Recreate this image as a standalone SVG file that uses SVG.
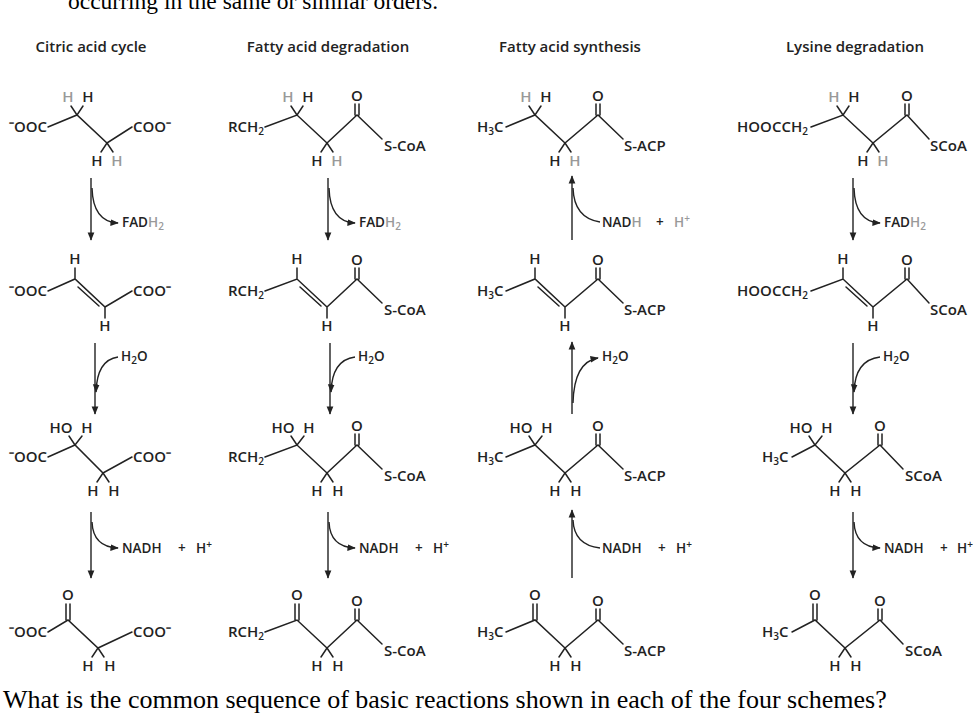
<svg xmlns="http://www.w3.org/2000/svg" width="976" height="723" viewBox="0 0 976 723">
<style>
.b{stroke:#222;stroke-width:1.5;fill:none;stroke-linecap:round}
.a{stroke:#222;stroke-width:1.4;fill:none}
text{font-family:"Open Sans","Liberation Sans",sans-serif;font-size:15px;font-weight:600;fill:#222}
.m{text-anchor:middle}
.e{text-anchor:end}
.g{fill:#999}
.l{font-size:13.5px}
.h{font-size:15px}
.s{font-size:10px}
.q{font-family:"Liberation Serif","Times New Roman",serif;font-weight:400;fill:#000}
.q1{font-size:23.5px}
.q2{font-size:26px}
</style>
<defs>
<marker id="ah" viewBox="0 0 10 10" refX="9" refY="5" markerWidth="6" markerHeight="6" orient="auto"><path d="M0,1 L10,5 L0,9 z" fill="#222"/></marker>
</defs>
<rect width="976" height="723" fill="#fff"/>
<text class="q q1" x="68" y="9">occurring in the same or similar orders.</text>
<text class="q q2" x="3" y="708">What is the common sequence of basic reactions shown in each of the four schemes?</text>
<g id="headers">
<text class="h m" x="91" y="52">Citric acid cycle</text>
<text class="h m" x="328" y="52">Fatty acid degradation</text>
<text class="h m" x="570" y="52">Fatty acid synthesis</text>
<text class="h m" x="855" y="52">Lysine degradation</text>
</g>

<g id="succinate">
<path class="b" d="M48,127 L77,115 L107,143 L132,127 M77,115 L71,106 M77,115 L83,106 M107,143 L101,152 M107,143 L113,152"/>
<text class="e" x="47" y="132">⁻OOC</text><text x="133" y="132">COO⁻</text>
<text class="m g" x="68" y="102">H</text><text class="m" x="88" y="102">H</text>
<text class="m" x="97" y="166">H</text><text class="m g" x="117" y="166">H</text>
</g>
<g id="fumarate">
<path class="b" d="M48,291 L75,279 L105,307 L132,291 M78,287 L99,306 M75,279 L75,268 M105,307 L105,318"/>
<text class="e" x="47" y="296">⁻OOC</text><text x="133" y="296">COO⁻</text>
<text class="m" x="75" y="264">H</text><text class="m" x="105" y="331">H</text>
</g>
<g id="malate">
<path class="b" d="M48,457 L75,445 L103,473 L132,457 M75,445 L69,436 M75,445 L82,436 M103,473 L97,482 M103,473 L109,482"/>
<text class="e" x="47" y="462">⁻OOC</text><text x="133" y="462">COO⁻</text>
<text class="m" x="61" y="433">HO</text><text class="m" x="87" y="433">H</text>
<text class="m" x="93" y="496">H</text><text class="m" x="114" y="496">H</text>
</g>
<g id="oxaloacetate">
<path class="b" d="M48,632 L68,620 L98,648 L132,632 M66,620 L66,604 M70,620 L70,604 M98,648 L92,657 M98,648 L104,657"/>
<text class="e" x="47" y="637">⁻OOC</text><text x="133" y="637">COO⁻</text>
<text class="m" x="68" y="600">O</text>
<text class="m" x="88" y="671">H</text><text class="m" x="110" y="671">H</text>
</g>

<g id="acylcoa">
<path class="b" d="M265,127 L297,115 L327,143 L357,115 L382,139 M355,115 L355,104 M359,115 L359,104 M297,115 L291,106 M297,115 L303,106 M327,143 L321,152 M327,143 L333,152"/>
<text x="228" y="132">RCH<tspan class="s" dy="3">2</tspan></text><text x="384" y="151">S-CoA</text>
<text class="m" x="357" y="101">O</text>
<text class="m g" x="288" y="102">H</text><text class="m" x="308" y="102">H</text>
<text class="m" x="317" y="166">H</text><text class="m g" x="337" y="166">H</text>
</g>
<g id="enoylcoa">
<path class="b" d="M265,291 L297,279 L327,307 L357,279 L382,303 M300,287 L321,306 M355,279 L355,268 M359,279 L359,268 M297,279 L297,268 M327,307 L327,318"/>
<text x="228" y="296">RCH<tspan class="s" dy="3">2</tspan></text><text x="384" y="315">S-CoA</text>
<text class="m" x="357" y="265">O</text>
<text class="m" x="297" y="264">H</text><text class="m" x="327" y="331">H</text>
</g>
<g id="hydroxyacylcoa">
<path class="b" d="M265,457 L297,445 L327,473 L357,445 L382,469 M355,445 L355,434 M359,445 L359,434 M297,445 L291,436 M297,445 L304,436 M327,473 L321,482 M327,473 L333,482"/>
<text x="228" y="462">RCH<tspan class="s" dy="3">2</tspan></text><text x="384" y="481">S-CoA</text>
<text class="m" x="357" y="431">O</text>
<text class="m" x="283" y="433">HO</text><text class="m" x="309" y="433">H</text>
<text class="m" x="317" y="496">H</text><text class="m" x="338" y="496">H</text>
</g>
<g id="ketoacylcoa">
<path class="b" d="M265,632 L297,620 L327,648 L357,620 L382,644 M295,620 L295,604 M299,620 L299,604 M355,620 L355,609 M359,620 L359,609 M327,648 L321,657 M327,648 L333,657"/>
<text x="228" y="637">RCH<tspan class="s" dy="3">2</tspan></text><text x="384" y="656">S-CoA</text>
<text class="m" x="297" y="600">O</text><text class="m" x="357" y="606">O</text>
<text class="m" x="317" y="671">H</text><text class="m" x="338" y="671">H</text>
</g>

<g id="butyrylacp">
<path class="b" d="M506,127 L535,115 L565,143 L598,115 L623,139 M596,115 L596,104 M600,115 L600,104 M535,115 L529,106 M535,115 L541,106 M565,143 L559,152 M565,143 L571,152"/>
<text x="477" y="132">H<tspan class="s" dy="3">3</tspan><tspan dy="-3">C</tspan></text><text x="624" y="151">S-ACP</text>
<text class="m" x="598" y="101">O</text>
<text class="m g" x="526" y="102">H</text><text class="m" x="546" y="102">H</text>
<text class="m" x="555" y="166">H</text><text class="m g" x="575" y="166">H</text>
</g>
<g id="crotonylacp">
<path class="b" d="M506,291 L535,279 L565,307 L598,279 L623,303 M538,287 L559,306 M596,279 L596,268 M600,279 L600,268 M535,279 L535,268 M565,307 L565,318"/>
<text x="477" y="296">H<tspan class="s" dy="3">3</tspan><tspan dy="-3">C</tspan></text><text x="624" y="315">S-ACP</text>
<text class="m" x="598" y="265">O</text>
<text class="m" x="535" y="264">H</text><text class="m" x="565" y="331">H</text>
</g>
<g id="hydroxybutyrylacp">
<path class="b" d="M506,457 L535,445 L565,473 L598,445 L623,469 M596,445 L596,434 M600,445 L600,434 M535,445 L529,436 M535,445 L542,436 M565,473 L559,482 M565,473 L571,482"/>
<text x="477" y="462">H<tspan class="s" dy="3">3</tspan><tspan dy="-3">C</tspan></text><text x="624" y="481">S-ACP</text>
<text class="m" x="598" y="431">O</text>
<text class="m" x="521" y="433">HO</text><text class="m" x="547" y="433">H</text>
<text class="m" x="555" y="496">H</text><text class="m" x="576" y="496">H</text>
</g>
<g id="acetoacetylacp">
<path class="b" d="M506,632 L535,620 L565,648 L598,620 L623,644 M533,620 L533,604 M537,620 L537,604 M596,620 L596,609 M600,620 L600,609 M565,648 L559,657 M565,648 L571,657"/>
<text x="477" y="637">H<tspan class="s" dy="3">3</tspan><tspan dy="-3">C</tspan></text><text x="624" y="656">S-ACP</text>
<text class="m" x="535" y="600">O</text><text class="m" x="598" y="606">O</text>
<text class="m" x="555" y="671">H</text><text class="m" x="576" y="671">H</text>
</g>

<g id="glutarylcoa">
<path class="b" d="M811,127 L843,115 L873,143 L907,115 L929,139 M905,115 L905,104 M909,115 L909,104 M843,115 L837,106 M843,115 L849,106 M873,143 L867,152 M873,143 L879,152"/>
<text x="737" y="132">HOOCCH<tspan class="s" dy="3">2</tspan></text><text x="930" y="151">SCoA</text>
<text class="m" x="907" y="101">O</text>
<text class="m g" x="834" y="102">H</text><text class="m" x="854" y="102">H</text>
<text class="m" x="863" y="166">H</text><text class="m g" x="883" y="166">H</text>
</g>
<g id="glutaconylcoa">
<path class="b" d="M811,291 L843,279 L873,307 L907,279 L929,303 M846,287 L867,306 M905,279 L905,268 M909,279 L909,268 M843,279 L843,268 M873,307 L873,318"/>
<text x="737" y="296">HOOCCH<tspan class="s" dy="3">2</tspan></text><text x="930" y="315">SCoA</text>
<text class="m" x="907" y="265">O</text>
<text class="m" x="843" y="264">H</text><text class="m" x="873" y="331">H</text>
</g>
<g id="hydroxybutyrylcoa">
<path class="b" d="M792,457 L815,445 L845,473 L880,445 L903,469 M878,445 L878,434 M882,445 L882,434 M815,445 L809,436 M815,445 L822,436 M845,473 L839,482 M845,473 L851,482"/>
<text x="762" y="462">H<tspan class="s" dy="3">3</tspan><tspan dy="-3">C</tspan></text><text x="905" y="481">SCoA</text>
<text class="m" x="880" y="431">O</text>
<text class="m" x="801" y="433">HO</text><text class="m" x="827" y="433">H</text>
<text class="m" x="835" y="496">H</text><text class="m" x="856" y="496">H</text>
</g>
<g id="acetoacetylcoa">
<path class="b" d="M792,632 L815,620 L845,648 L880,620 L903,644 M813,620 L813,604 M817,620 L817,604 M878,620 L878,609 M882,620 L882,609 M845,648 L839,657 M845,648 L851,657"/>
<text x="762" y="637">H<tspan class="s" dy="3">3</tspan><tspan dy="-3">C</tspan></text><text x="905" y="656">SCoA</text>
<text class="m" x="815" y="600">O</text><text class="m" x="880" y="606">O</text>
<text class="m" x="835" y="671">H</text><text class="m" x="856" y="671">H</text>
</g>

<g id="connectors">
<path class="a" marker-end="url(#ah)" d="M91,178 L91,240"/>
<path class="a" marker-end="url(#ah)" d="M92,188 Q93,222 118,223"/>
<path class="a" marker-end="url(#ah)" d="M95,343 L95,414"/>
<path class="a" marker-end="url(#ah)" d="M118,357 Q97,360 96,392"/>
<path class="a" marker-end="url(#ah)" d="M91,512 L91,578"/>
<path class="a" marker-end="url(#ah)" d="M92,522 Q93,547 118,548"/>
<path class="a" marker-end="url(#ah)" d="M328,178 L328,240"/>
<path class="a" marker-end="url(#ah)" d="M329,188 Q330,222 355,223"/>
<path class="a" marker-end="url(#ah)" d="M330,343 L330,414"/>
<path class="a" marker-end="url(#ah)" d="M355,357 Q332,360 331,392"/>
<path class="a" marker-end="url(#ah)" d="M328,512 L328,578"/>
<path class="a" marker-end="url(#ah)" d="M329,522 Q330,547 355,548"/>
<path class="a" marker-end="url(#ah)" d="M572,240 L572,176"/>
<path class="a" d="M600,222 Q574,218 573,188"/>
<path class="a" marker-end="url(#ah)" d="M572,414 L572,342"/>
<path class="a" marker-end="url(#ah)" d="M573,403 Q574,362 598,358"/>
<path class="a" marker-end="url(#ah)" d="M572,578 L572,510"/>
<path class="a" d="M600,548 Q574,545 573,520"/>
<path class="a" marker-end="url(#ah)" d="M853,178 L853,240"/>
<path class="a" marker-end="url(#ah)" d="M854,188 Q855,222 880,223"/>
<path class="a" marker-end="url(#ah)" d="M853,343 L853,414"/>
<path class="a" marker-end="url(#ah)" d="M880,357 Q855,360 854,392"/>
<path class="a" marker-end="url(#ah)" d="M853,512 L853,578"/>
<path class="a" marker-end="url(#ah)" d="M854,522 Q855,547 880,548"/>
</g>
<g id="labels">
<text class="l" x="122" y="227">FAD<tspan class="g">H</tspan><tspan class="g s" dy="3">2</tspan></text>
<text class="l" x="121" y="361">H<tspan class="s" dy="3">2</tspan><tspan dy="-3">O</tspan></text>
<text class="l" x="122" y="553">NADH<tspan x="178">+</tspan><tspan x="196">H</tspan><tspan class="s" dy="-5">+</tspan></text>
<text class="l" x="359" y="227">FAD<tspan class="g">H</tspan><tspan class="g s" dy="3">2</tspan></text>
<text class="l" x="358" y="361">H<tspan class="s" dy="3">2</tspan><tspan dy="-3">O</tspan></text>
<text class="l" x="359" y="553">NADH<tspan x="415">+</tspan><tspan x="433">H</tspan><tspan class="s" dy="-5">+</tspan></text>
<text class="l" x="602" y="227">NAD<tspan class="g">H</tspan><tspan x="656">+</tspan><tspan class="g" x="674">H</tspan><tspan class="g s" dy="-5">+</tspan></text>
<text class="l" x="602" y="361">H<tspan class="s" dy="3">2</tspan><tspan dy="-3">O</tspan></text>
<text class="l" x="602" y="553">NADH<tspan x="658">+</tspan><tspan x="676">H</tspan><tspan class="s" dy="-5">+</tspan></text>
<text class="l" x="884" y="227">FAD<tspan class="g">H</tspan><tspan class="g s" dy="3">2</tspan></text>
<text class="l" x="883" y="361">H<tspan class="s" dy="3">2</tspan><tspan dy="-3">O</tspan></text>
<text class="l" x="884" y="553">NADH<tspan x="940">+</tspan><tspan x="957">H</tspan><tspan class="s" dy="-5">+</tspan></text>
</g>
</svg>
